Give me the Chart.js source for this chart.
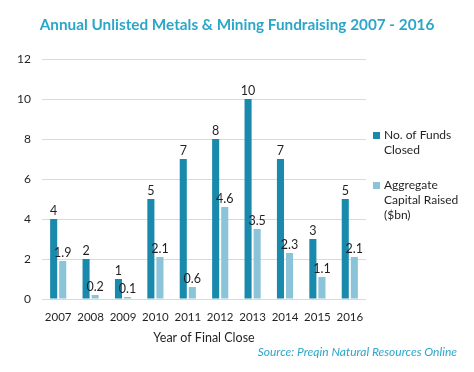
<!DOCTYPE html>
<html>
<head>
<meta charset="utf-8">
<script src="https://cdn.jsdelivr.net/npm/chart.js@4/dist/chart.umd.min.js"></script>
<style>
  html, body { margin: 0; padding: 0; background: #fff; }
  #wrap { width: 474px; height: 372px; position: relative; }
</style>
</head>
<body>
<div id="wrap"><canvas id="chart"></canvas></div>
<script>
// Daten
const years = ['2007', '2008', '2009', '2010', '2011', '2012', '2013', '2014', '2015', '2016'];
const fundsClosed = [4, 2, 1, 5, 7, 8, 10, 7, 3, 5];
const capitalRaised = [1.9, 0.2, 0.1, 2.1, 0.6, 4.6, 3.5, 2.3, 1.1, 2.1];
const yTicks = [0, 2, 4, 6, 8, 10, 12];

const darkBlue = '#1a8aac';
const lightBlue = '#8bc3d8';
const teal = '#2ba6c9';
const txt = '#231f20';
const fontFam = 'Lato, "Open Sans", sans-serif';

// Titel, Werte über den Säulen, Legende rechts, Quelle unten
const extras = {
  id: 'extras',
  afterDatasetsDraw(chart) {
    const ctx = chart.ctx;
    ctx.save();

    // Titel (über die ganze Breite zentriert)
    ctx.fillStyle = teal;
    ctx.font = 'bold 15.3px ' + fontFam;
    ctx.textAlign = 'center';
    ctx.textBaseline = 'middle';
    ctx.fillText('Annual Unlisted Metals & Mining Fundraising 2007 - 2016', 237, 25);

    ctx.fillStyle = txt;
    ctx.font = '12.5px ' + fontFam;
    ctx.textBaseline = 'bottom';
    chart.data.datasets.forEach((ds, i) => {
      chart.getDatasetMeta(i).data.forEach((bar, j) => {
        ctx.fillText(String(ds.data[j]), bar.x, bar.y - 2);
      });
    });

    // Legende
    const items = [
      { color: darkBlue, lines: ['No. of Funds', 'Closed'], y: 135 },
      { color: lightBlue, lines: ['Aggregate', 'Capital Raised', '($bn)'], y: 185 }
    ];
    ctx.textAlign = 'left';
    ctx.textBaseline = 'middle';
    ctx.font = '12px ' + fontFam;
    items.forEach(it => {
      ctx.fillStyle = it.color;
      ctx.fillRect(373, it.y - 3, 7, 7);
      ctx.fillStyle = txt;
      it.lines.forEach((l, k) => ctx.fillText(l, 384, it.y + k * 15));
    });

    // Quelle
    ctx.font = 'italic 12px ' + fontFam;
    ctx.fillStyle = teal;
    ctx.textAlign = 'right';
    ctx.fillText('Source: Preqin Natural Resources Online', 457, 352);
    ctx.restore();
  }
};

new Chart(document.getElementById('chart'), {
  type: 'bar',
  data: {
    labels: years,
    datasets: [
      { label: 'No. of Funds Closed', data: fundsClosed, backgroundColor: darkBlue },
      { label: 'Aggregate Capital Raised ($bn)', data: capitalRaised, backgroundColor: lightBlue }
    ]
  },
  options: {
    responsive: true,
    maintainAspectRatio: false,
    animation: false,
    categoryPercentage: 0.56,
    barPercentage: 0.78,
    layout: { padding: { left: 0, right: 108, top: 59, bottom: 23 } },
    plugins: {
      legend: { display: false },
      tooltip: { enabled: false },
      title: { display: false }
    },
    scales: {
      x: {
        grid: { display: false },
        border: { display: false },
        ticks: {
          color: txt,
          font: { family: fontFam, size: 11.5 },
          padding: 3,
          maxRotation: 0,
          minRotation: 0,
          autoSkip: false
        },
        title: {
          display: true,
          text: 'Year of Final Close',
          color: txt,
          font: { family: fontFam, size: 12.5 },
          padding: { top: 4, bottom: 4 }
        },
        afterFit: s => { s.height = 50; }
      },
      y: {
        min: 0,
        max: 12,
        afterBuildTicks: s => { s.ticks = yTicks.map(v => ({ value: v })); },
        grid: { color: '#d9d9d9', drawTicks: false },
        border: { display: false },
        ticks: { color: txt, font: { family: fontFam, size: 12 }, padding: 11 },
        afterFit: s => { s.width = 42; }
      }
    }
  },
  plugins: [extras]
});
</script>
</body>
</html>
